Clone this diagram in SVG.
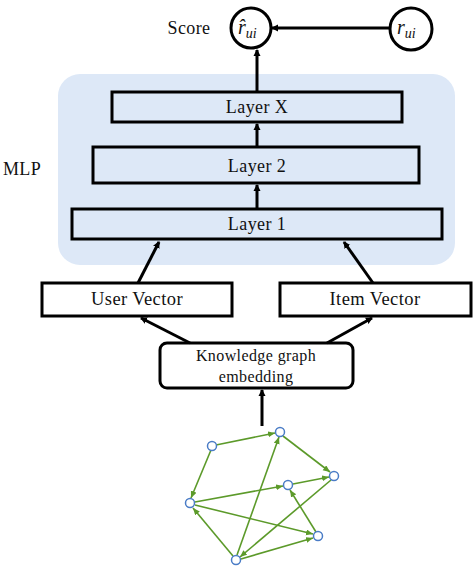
<svg xmlns="http://www.w3.org/2000/svg" width="474" height="569" viewBox="0 0 474 569">
<style>
.box{fill:none;stroke:#000;stroke-width:3}
.t{font-family:"Liberation Serif",serif;fill:#111;text-anchor:middle;letter-spacing:0.4px}
.c{stroke:#000;stroke-width:3;fill:none;marker-end:url(#ah)}
.g{stroke:#5c9a2a;stroke-width:1.6;fill:none;marker-end:url(#gh)}
.gn{fill:#fff;stroke:#4a7cc6;stroke-width:1.5}
.m{font-family:"Liberation Serif",serif;font-style:italic;fill:#111}
</style>
<defs>
<marker id="ah" markerWidth="8" markerHeight="8" refX="6" refY="4" orient="auto" markerUnits="userSpaceOnUse"><path d="M0,0.5 L7,4 L0,7.5 Z" fill="#000"/></marker>
<marker id="gh" markerWidth="8" markerHeight="8" refX="7" refY="3" orient="auto" markerUnits="userSpaceOnUse"><path d="M0,0 L7,3 L0,6 Z" fill="#5c9a2a"/></marker>
</defs>
<rect x="0" y="0" width="474" height="569" fill="#fff"/>
<g id="mlp-bg"><rect x="58" y="74" width="397" height="191" rx="22" fill="#dde8f7"/></g>
<text class="t" x="22" y="175" font-size="18" id="mlp-label">MLP</text>
<text class="t" x="189" y="34" font-size="18" id="score-label">Score</text>
<g id="connectors">
<line class="c" x1="257" y1="92" x2="257" y2="50"/>
<line class="c" x1="389" y1="28" x2="272" y2="28"/>
<line class="c" x1="257" y1="147" x2="257" y2="124"/>
<line class="c" x1="257" y1="209" x2="257" y2="185"/>
<line class="c" x1="138" y1="283" x2="159" y2="242"/>
<line class="c" x1="373" y1="283" x2="344" y2="242"/>
<line class="c" x1="190" y1="343" x2="141" y2="318"/>
<line class="c" x1="327" y1="343" x2="372" y2="318"/>
<line class="c" x1="262" y1="426" x2="262" y2="390"/>
</g>
<g id="r-hat">
<circle cx="251" cy="28" r="20" fill="#fff" stroke="#000" stroke-width="3"/>
<text class="m" x="238" y="34" font-size="20">r̂<tspan font-size="14" dy="4">ui</tspan></text>
</g>
<g id="r-ui">
<circle cx="411" cy="29" r="21" fill="#fff" stroke="#000" stroke-width="3"/>
<text class="m" x="397" y="34" font-size="20">r<tspan font-size="14" dy="4">ui</tspan></text>
</g>
<g id="layer-x"><rect class="box" x="112" y="92" width="290" height="30"/><text class="t" x="257" y="113" font-size="18">Layer X</text></g>
<g id="layer-2"><rect class="box" x="93" y="147" width="326" height="36"/><text class="t" x="257" y="172" font-size="18">Layer 2</text></g>
<g id="layer-1"><rect class="box" x="72" y="209" width="370" height="30"/><text class="t" x="257" y="230" font-size="18">Layer 1</text></g>
<g id="user-vector"><rect class="box" x="42" y="283" width="190" height="33" fill="#fff"/><text class="t" x="137" y="305" font-size="18.5">User Vector</text></g>
<g id="item-vector"><rect class="box" x="280" y="283" width="191" height="33" fill="#fff"/><text class="t" x="375" y="305" font-size="18.5">Item Vector</text></g>
<g id="kg-embedding"><rect class="box" x="160" y="343" width="193" height="45" rx="7" fill="#fff"/><text class="t" x="256" y="361" font-size="16">Knowledge graph</text><text class="t" x="256" y="382" font-size="16">embedding</text></g>
<g id="graph-edges">
<line class="g" x1="216" y1="445" x2="275" y2="433"/>
<line class="g" x1="211" y1="450" x2="191" y2="498"/>
<line class="g" x1="283" y1="436" x2="330" y2="472"/>
<line class="g" x1="293" y1="484" x2="329" y2="477"/>
<line class="g" x1="195" y1="502" x2="283" y2="486"/>
<line class="g" x1="195" y1="505" x2="313" y2="534"/>
<line class="g" x1="233" y1="556" x2="193" y2="508"/>
<line class="g" x1="237" y1="555" x2="279" y2="437"/>
<line class="g" x1="331" y1="480" x2="240" y2="557"/>
<line class="g" x1="241" y1="559" x2="313" y2="538"/>
<line class="g" x1="316" y1="532" x2="290" y2="490"/>
</g>
<g id="graph-nodes">
<circle class="gn" cx="212" cy="446" r="4.5"/>
<circle class="gn" cx="280" cy="432" r="4.5"/>
<circle class="gn" cx="334" cy="476" r="4.5"/>
<circle class="gn" cx="288" cy="485" r="4.5"/>
<circle class="gn" cx="190" cy="503" r="4.5"/>
<circle class="gn" cx="318" cy="536" r="4.5"/>
<circle class="gn" cx="236" cy="560" r="4.5"/>
</g>
</svg>
